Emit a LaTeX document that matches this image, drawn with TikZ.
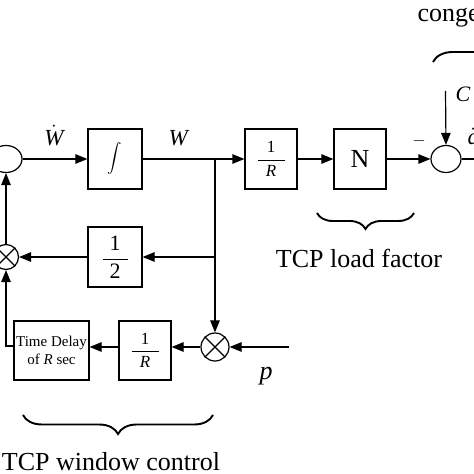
\documentclass[tikz,border=0pt]{standalone}
\usepackage{amsmath}
\usepackage{exscale}
\usepackage{fontspec}
\setmainfont{Liberation Serif}
\usetikzlibrary{arrows.meta,shapes.geometric,decorations.pathreplacing}
\begin{document}
\begin{tikzpicture}[x=1pt,y=1pt,
  line width=1.2pt,
  arr/.style={-{Triangle[length=12pt,width=9.5pt]}},
  blk/.style={draw, rectangle, inner sep=0pt, minimum height=60pt, font=\fontsize{26}{30}\selectfont},
  sumnode/.style={draw, ellipse, inner sep=0pt, minimum width=31pt, minimum height=27pt},
  mulnode/.style={draw, circle, inner sep=0pt},
  lbl/.style={inner sep=0pt},
  brc/.style={decorate, decoration={brace, amplitude=#1}, line width=1.9pt},
]
\useasboundingbox (0,0) rectangle (474,474);
\clip (0,0) rectangle (474,474);

% blocks
\node[blk, minimum width=54pt] (int) at (115,315) {\fontsize{14}{14}\selectfont$\displaystyle\int$};
\node[blk, minimum width=52pt] (r1) at (271,315) {\fontsize{17}{17}\selectfont$\displaystyle\frac{\makebox[27pt]{1}}{\mbox{\itshape R}}$};
\node[blk, minimum width=52pt] (n) at (360,315) {N};
\node[blk, minimum width=54pt] (half) at (115,217) {\fontsize{22}{22}\selectfont$\displaystyle\frac{\makebox[25pt]{1}}{\mbox{2}}$};
\node[blk, minimum width=52pt, minimum height=59pt] (r2) at (145,123.5) {\fontsize{17}{17}\selectfont$\displaystyle\frac{\makebox[27pt]{1}}{\mbox{\itshape R}}$};
\node[blk, minimum width=75pt, minimum height=59pt, font=\fontsize{15}{18}\selectfont, align=center] (dl) at (51.5,123.5) {Time Delay\\of \textit{R} sec};

% summing / multiplying junctions
\node[sumnode, minimum width=32pt] (s1) at (6,315) {};
\node[sumnode, minimum width=30pt] (s2) at (446,315) {};
\node[mulnode, minimum size=25pt] (m1) at (6,217) {};
\draw (m1.north west) -- (m1.south east) (m1.north east) -- (m1.south west);
\node[mulnode, minimum size=28pt] (m2) at (215,127) {};
\draw (m2.north west) -- (m2.south east) (m2.north east) -- (m2.south west);

% free ends
\coordinate (j1) at (215,315);
\coordinate (j2) at (215,217);
\coordinate (pin) at (289,127);
\coordinate (cin) at (445.5,383);
\coordinate (out) at (480,315);
\coordinate (k) at (6,128);

% connectors
\draw[arr] (s1.east) -- (int.west);
\draw[arr] (int.east) -- (r1.west);
\draw[arr] (r1.east) -- (n.west);
\draw[arr] (n.east) -- (s2.west);
\draw (s2.east) -- (out);
\draw[arr] (cin) -- (s2.north);
\draw[arr] (j1) -- (m2.north);
\draw[arr] (j2) -- (half.east);
\draw[arr] (half.west) -- (m1.east);
\draw[arr] (m1.north) -- (s1.south);
\draw[arr] (pin) -- (m2.east);
\draw[arr] (m2.west) -- (m2.west -| r2.east);
\draw[arr] (r2.west |- m2.west) -- (dl.east |- m2.west);
\draw[arr] (dl.west |- k) -- (k) -- (m1.south);

% labels
\node[lbl, anchor=base, font=\fontsize{23}{23}\selectfont] (wd) at (54,328) {$\dot{\textit{W}}$};
\node[lbl, anchor=base, font=\fontsize{23}{23}\selectfont] (w) at (179,328) {\textit{W}};
\node[lbl, anchor=base, font=\fontsize{22}{22}\selectfont] (cl) at (463,372) {\textit{C}};
\node[lbl, font=\fontsize{18}{18}\selectfont] (mn) at (419,333) {$-$};
\node[lbl, anchor=base, font=\fontsize{26}{26}\selectfont] (pl) at (266,94) {\textit{p}};
\node[lbl, anchor=base west, font=\fontsize{23}{23}\selectfont] (qd) at (467,329) {$\dot{\textit{q}}$};
\node[lbl, anchor=base, font=\fontsize{26}{26}\selectfont] (lf) at (359,206) {TCP load factor};
\node[lbl, anchor=base, font=\fontsize{26}{26}\selectfont] (wc) at (111,3) {TCP window control};
\node[lbl, anchor=base west, font=\fontsize{26}{26}\selectfont] (cg) at (417,452) {congestion};

% braces
\draw[brc=16pt] (414,261) -- (317,261);
\draw[brc=19pt] (213,59) -- (23,59);
\draw[brc=20pt] (433,412) -- (640,412);
\end{tikzpicture}
\end{document}
